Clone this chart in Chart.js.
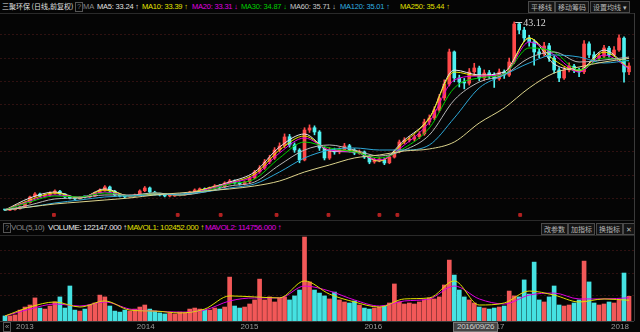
<!DOCTYPE html>
<html>
<head>
<meta charset="utf-8">
<script src="https://cdn.jsdelivr.net/npm/chart.js@4.4.0/dist/chart.umd.min.js"></script>
<style>
body{margin:0;background:#050505;width:640px;height:332px;overflow:hidden;position:relative;font-family:"Liberation Sans","Noto Sans CJK SC",sans-serif;font-size:7.5px;}
.t{position:absolute;white-space:nowrap;line-height:11px;}
.m{letter-spacing:-0.2px;}
.v{letter-spacing:-0.4px;font-size:8px;}
.btn{position:absolute;border:1px solid #4a4a4a;background:#141414;color:#b8b8b8;height:10px;line-height:10px;padding:0 2px;font-size:7px;font-family:"Noto Sans CJK SC",sans-serif;}
.hl{position:absolute;height:1px;background:#2a2a2a;}
canvas{position:absolute;left:0;}
</style>
</head>
<body>
<div class="t" style="left:2px;top:1px;color:#e0e0e0;font-size:7px;font-family:'Noto Sans CJK SC',sans-serif;">三聚环保 (日线,前复权)</div>
<div class="t" style="left:75px;top:2px;color:#777;border:1px solid #555;line-height:8px;padding:0 1px;">?</div>
<div class="t" style="left:83px;top:1px;color:#888;">MA</div>
<div class="t m" style="left:97px;top:1px;color:#e0e0e0;">MA5: 33.24 ↑</div>
<div class="t m" style="left:142px;top:1px;color:#e6e600;">MA10: 33.39 ↑</div>
<div class="t m" style="left:192px;top:1px;color:#e000e0;">MA20: 33.31 ↓</div>
<div class="t m" style="left:241px;top:1px;color:#00d000;">MA30: 34.87 ↓</div>
<div class="t m" style="left:290px;top:1px;color:#c8c8c8;">MA60: 35.71 ↓</div>
<div class="t m" style="left:340px;top:1px;color:#30b0e0;">MA120: 35.01 ↑</div>
<div class="t m" style="left:400px;top:1px;color:#e0e000;">MA250: 35.44 ↑</div>
<div class="btn" style="left:528px;top:1px;">平移线</div>
<div class="btn" style="left:555px;top:1px;">移动筹码</div>
<div class="btn" style="left:590px;top:1px;">设置均线 ▾</div>
<div class="hl" style="left:0;top:13px;width:634px;"></div>
<div class="hl" style="left:0;top:220px;width:634px;"></div>

<div class="t" style="left:3px;top:223px;color:#777;border:1px solid #555;line-height:8px;padding:0 1px;">?</div>
<div class="t v" style="left:11px;top:222px;color:#888;">VOL(5,10)</div>
<div class="t v" style="left:48px;top:222px;color:#e8e8e8;">VOLUME: 122147.000 ↑</div>
<div class="t v" style="left:127px;top:222px;color:#e0e000;">MAVOL1: 102452.000 ↑</div>
<div class="t v" style="left:205px;top:222px;color:#e000e0;">MAVOL2: 114756.000 ↑</div>
<div class="btn" style="left:541px;top:223px;">改参数</div>
<div class="btn" style="left:568px;top:223px;">加指标</div>
<div class="btn" style="left:596px;top:223px;">换指标</div>
<div class="btn" style="left:623px;top:223px;">✕</div>
<div class="hl" style="left:0;top:235px;width:634px;"></div>
<div style="position:absolute;left:634px;top:13px;width:1px;height:308px;background:#3a3a3a;"></div>

<canvas id="priceChart" width="634" height="208" style="top:12px;"></canvas>
<canvas id="volChart" width="634" height="96" style="top:236px;"></canvas>

<div class="t" style="left:3px;top:322px;color:#999;border:1px solid #555;line-height:8px;padding:0 1px;">«</div>
<div class="t" style="left:453px;top:322px;color:#d0d0d0;background:#444;border:1px solid #777;line-height:8px;padding:0 3px;font-size:8px;letter-spacing:-0.3px;">2016/09/26</div>

<script>
// candles, one per ~week
const opens = [3.5,3.4,3.5,3.7,4.1,5.0,6.3,6.8,6.4,6.6,
  7.0,7.4,6.8,6.2,6.0,5.8,6.2,6.2,6.4,7.0,
  7.6,8.3,7.4,6.6,6.4,6.2,6.4,6.6,7.5,8.1,
  7.2,6.8,6.6,6.4,6.4,6.6,6.6,6.8,7.2,7.7,
  7.9,7.7,8.1,8.5,8.3,9.1,9.6,9.1,8.9,9.4,
  10.2,11.5,12.3,13.6,14.4,16.1,17.0,18.9,17.2,16.1,
  14.0,20.3,20.8,19.9,16.5,14.4,16.1,15.7,16.1,17.0,
  16.1,15.5,15.7,14.6,13.6,14.0,14.0,13.4,14.6,15.7,
  17.8,18.2,18.4,18.9,19.5,22.0,22.9,24.5,27.1,30.0,
  36.8,31.3,30.5,30.2,32.6,33.4,31.3,32.4,31.9,31.1,
  32.6,31.9,34.7,42.7,41.4,39.7,38.9,36.8,36.4,38.1,
  35.5,33.0,31.3,33.0,33.8,33.0,32.6,38.5,36.2,35.5,
  35.9,37.6,36.2,37.2,39.7,32.6];
const closes = [3.44,3.44,3.65,4.08,4.92,6.19,6.82,6.40,6.61,7.03,
  7.45,6.82,6.19,5.98,5.77,6.19,6.19,6.40,7.03,7.66,
  8.30,7.45,6.61,6.40,6.19,6.40,6.61,7.45,8.09,7.24,
  6.82,6.61,6.40,6.40,6.61,6.61,6.82,7.24,7.66,7.88,
  7.66,8.09,8.51,8.30,9.14,9.56,9.14,8.93,9.35,10.20,
  11.47,12.31,13.57,14.42,16.10,16.95,18.85,17.16,16.10,14.00,
  20.32,20.75,19.90,16.53,14.42,16.10,15.68,16.10,16.95,16.10,
  15.47,15.68,14.63,13.57,14.00,14.00,13.36,14.63,15.68,17.79,
  18.21,18.43,18.85,19.48,22.01,22.86,24.54,27.08,30.03,36.78,
  31.30,30.45,30.24,32.56,33.41,31.30,32.35,31.93,31.09,32.56,
  31.93,34.67,42.69,41.42,39.74,38.89,36.78,36.36,38.05,35.52,
  32.98,31.30,32.98,33.83,32.98,32.56,38.47,36.15,35.52,35.94,
  37.63,36.15,37.20,39.74,32.56,33.83];
const highs = [3.6,3.6,3.8,4.2,5.1,6.4,7.1,7.0,6.8,7.3,
  7.7,7.6,6.9,6.3,6.1,6.3,6.4,6.6,7.2,7.9,
  8.6,8.5,7.6,6.8,6.5,6.6,6.8,7.7,8.4,8.3,
  7.4,7.0,6.7,6.6,6.8,6.8,7.0,7.4,7.9,8.1,
  8.1,8.3,8.8,8.8,9.4,9.9,9.8,9.4,9.6,10.5,
  11.8,12.8,14.1,15.0,16.6,17.6,19.5,19.4,17.6,16.4,
  20.8,21.4,21.2,20.2,16.8,16.6,16.5,16.6,17.5,17.3,
  16.4,16.1,15.9,14.9,14.4,14.5,14.3,15.0,16.1,18.2,
  18.7,18.9,19.3,20.0,22.6,23.5,25.2,27.8,30.9,37.4,
  37.0,31.9,31.2,33.3,34.4,33.8,33.0,32.9,32.4,33.2,
  33.0,35.5,43.12,43.0,42.0,40.3,39.4,37.5,38.8,38.6,
  35.9,33.5,33.6,34.5,34.2,33.4,39.2,38.9,36.8,36.6,
  38.2,38.0,37.9,40.4,40.0,34.5];
const lows = [3.3,3.3,3.4,3.6,4.0,4.9,6.1,6.2,6.2,6.4,
  6.8,6.6,6.0,5.8,5.6,5.7,6.0,6.1,6.3,6.9,
  7.4,7.2,6.4,6.2,6.0,6.1,6.3,6.5,7.3,7.0,
  6.6,6.4,6.2,6.2,6.3,6.4,6.5,6.7,7.1,7.5,
  7.4,7.5,7.9,8.1,8.1,8.9,8.9,8.7,8.7,9.2,
  10.0,11.2,12.0,13.2,14.1,15.7,16.6,16.7,15.6,13.4,
  13.8,19.8,19.3,16.0,14.0,14.1,15.2,15.3,15.8,15.7,
  15.1,15.2,14.3,13.2,13.3,13.6,13.0,13.2,14.4,15.5,
  17.4,17.8,18.0,18.5,19.2,21.4,22.5,24.1,26.6,29.6,
  30.5,29.4,29.0,29.8,32.0,30.7,30.8,31.2,29.3,30.8,
  31.2,31.6,34.3,40.6,39.0,38.0,34.0,35.6,35.9,34.8,
  32.3,30.5,31.0,32.6,32.4,31.6,32.2,35.6,35.0,35.1,
  35.6,35.7,35.9,36.9,30.4,32.0];
const volumes = [25000,25000,30000,54000,69000,79000,114000,64000,59000,74000,
  94000,119000,64000,173000,54000,49000,59000,79000,89000,128000,
  119000,74000,49000,44000,54000,49000,59000,69000,79000,59000,
  49000,40000,35000,40000,35000,44000,40000,59000,64000,59000,
  54000,54000,64000,59000,69000,217000,74000,64000,69000,84000,
  104000,207000,104000,119000,94000,114000,119000,104000,124000,153000,
  415000,193000,153000,138000,124000,109000,143000,104000,94000,89000,
  99000,79000,64000,59000,64000,69000,74000,89000,183000,94000,
  84000,89000,84000,94000,104000,114000,109000,119000,178000,301000,
  227000,153000,119000,104000,89000,69000,64000,59000,64000,69000,
  74000,148000,124000,119000,203000,133000,291000,104000,94000,119000,
  173000,79000,74000,79000,89000,104000,296000,193000,89000,79000,
  84000,94000,89000,104000,237000,122147];

// moving averages sampled every 5 candles
const maIdx = [0,5,10,15,20,25,30,35,40,45,50,55,60,65,70,75,80,85,90,95,100,105,110,115,120,125];
const ma5 = [3.44,5.98,7.24,5.98,7.88,6.40,6.82,6.61,7.88,9.35,11.46,16.74,19.48,15.89,15.68,13.78,18.21,22.86,32.98,31.93,32.56,39.74,34.25,32.98,37.20,33.24];
const ma10 = [3.44,5.55,7.03,5.98,7.66,6.40,6.82,6.61,7.88,9.14,11.04,16.10,19.06,16.10,15.89,13.78,17.79,22.86,32.56,31.72,32.14,39.74,35.09,32.77,36.78,33.39];
const ma20 = [3.44,5.34,6.61,6.19,7.24,6.40,7.03,6.61,7.66,9.14,10.62,15.47,18.64,16.10,15.68,14.00,17.16,22.01,30.87,31.72,32.14,38.89,36.15,32.56,36.15,33.31];
const ma30 = [3.44,5.13,6.40,6.19,7.03,6.40,7.03,6.61,7.45,8.93,9.98,14.42,17.79,16.53,15.68,14.42,16.53,20.75,29.19,31.30,32.14,37.63,36.78,32.98,35.52,34.87];
const ma60 = [3.44,4.50,5.77,5.98,6.61,6.61,7.03,6.61,7.24,8.51,9.35,12.94,16.10,17.16,16.10,14.84,16.10,19.27,26.65,30.45,31.93,35.52,36.78,34.67,35.09,35.71];
const ma120 = [3.44,4.08,4.92,5.55,6.19,6.40,6.61,6.82,7.24,8.09,8.93,11.46,14.42,16.10,16.53,16.10,16.10,17.16,22.86,29.19,31.93,34.46,36.15,35.73,34.46,35.01];
const ma250 = [3.44,4.08,4.71,5.13,5.55,5.98,6.61,7.03,7.45,7.88,8.51,9.56,11.46,12.94,14.42,15.05,15.89,16.32,17.79,21.80,24.97,29.19,32.35,33.62,34.67,35.44];
const mavol1 = [25000,69000,94000,69000,99000,54000,49000,40000,59000,124000,119000,114000,198000,133000,94000,69000,109000,114000,198000,79000,89000,148000,128000,94000,109000,102452];
const mavol2 = [25000,59000,84000,74000,94000,59000,49000,44000,54000,99000,114000,114000,173000,148000,104000,74000,99000,109000,173000,109000,84000,128000,138000,109000,109000,114756];

const priceGrid = [40.4,35.5,30.5,25.6,20.7,15.7,10.8,5.9];
const volGrid = [124000,237000,350000];
const yearLabels = ['2013','2014','2015','2016','2017','2018'];
const yearIdx = [2.2,26.4,47.2,72,96.5,121.4];
const signalIdx = [9.8,34.6,43.2,54.4,64.8,75,78.6,103.2];

const UP = '#ff4a4a';
const DOWN = '#4ff0f0';
const isUp = closes.map((c, i) => c >= opens[i]);

const gridColor = 'rgba(110,35,35,0.4)';

const maLine = (vals, color) => ({
  type: 'line',
  data: maIdx.map((x, k) => ({ x: x, y: vals[k] })),
  borderColor: color,
  borderWidth: 1,
  pointRadius: 0,
  cubicInterpolationMode: 'monotone',
});

const maxLabel = {
  id: 'maxLabel',
  afterDatasetsDraw(chart) {
    const { ctx, scales } = chart;
    let k = 0;
    highs.forEach((h, i) => { if (h > highs[k]) k = i; });
    const px = scales.x.getPixelForValue(k);
    const py = scales.y.getPixelForValue(highs[k]);
    ctx.save();
    ctx.strokeStyle = '#cfcfcf';
    ctx.lineWidth = 1;
    ctx.beginPath();
    ctx.moveTo(px + 1, Math.round(py) + 0.5);
    ctx.lineTo(px + 8, Math.round(py) + 0.5);
    ctx.stroke();
    ctx.fillStyle = '#d8d8d8';
    ctx.font = '10px "Liberation Serif", serif';
    ctx.textBaseline = 'middle';
    ctx.fillText(highs[k].toFixed(2), px + 9, py + 1);
    ctx.restore();
  }
};

const init = () => {
  const priceCtx = document.getElementById('priceChart').getContext('2d');
  new Chart(priceCtx, {
    type: 'bar',
    data: {
      datasets: [
        maLine(ma250, '#dcd48c'),
        maLine(ma120, '#2ea8d8'),
        maLine(ma60, '#b8b8b8'),
        maLine(ma30, '#00d000'),
        maLine(ma20, '#e000e0'),
        maLine(ma10, '#e6e600'),
        maLine(ma5, '#e8e8e8'),
        {
          type: 'bar',
          data: closes.map((c, i) => ({ x: i, y: [lows[i], highs[i]] })),
          backgroundColor: isUp.map(u => u ? UP : DOWN),
          barThickness: 1,
          grouped: false,
        },
        {
          type: 'bar',
          data: closes.map((c, i) => ({ x: i, y: [opens[i], c] })),
          backgroundColor: isUp.map(u => u ? UP : DOWN),
          barThickness: 3,
          minBarLength: 1,
          grouped: false,
        },
        {
          type: 'scatter',
          data: signalIdx.map(x => ({ x: x, y: 2.4 })),
          pointStyle: 'rect',
          pointRadius: 2,
          backgroundColor: '#b22222',
          borderColor: '#b22222',
        },
      ]
    },
    options: {
      responsive: false,
      animation: false,
      devicePixelRatio: 1,
      layout: { padding: 0, autoPadding: false },
      plugins: { legend: { display: false }, tooltip: { enabled: false } },
      scales: {
        x: { type: 'linear', min: -1, max: 126, offset: false, display: false },
        y: {
          min: 1.33, max: 45.22,
          afterBuildTicks: s => { s.ticks = priceGrid.map(v => ({ value: v })); },
          ticks: { display: false },
          grid: { color: gridColor, drawTicks: false },
          border: { display: false, dash: [2, 2] },
        }
      }
    },
    plugins: [maxLabel]
  });

  const volCtx = document.getElementById('volChart').getContext('2d');
  new Chart(volCtx, {
    type: 'bar',
    data: {
      datasets: [
        maLine(mavol1, '#e0e000'),
        maLine(mavol2, '#e000e0'),
        {
          type: 'bar',
          data: volumes.map((v, i) => ({ x: i, y: v })),
          backgroundColor: isUp.map(u => u ? '#f25858' : '#45e2e2'),
          barThickness: 4,
          grouped: false,
        },
      ]
    },
    options: {
      responsive: false,
      animation: false,
      devicePixelRatio: 1,
      layout: { padding: 0, autoPadding: false },
      plugins: { legend: { display: false }, tooltip: { enabled: false } },
      scales: {
        x: {
          type: 'linear', min: -1, max: 126, offset: false,
          afterBuildTicks: s => { s.ticks = yearIdx.map(v => ({ value: v })); },
          afterFit: s => { s.height = 11; },
          ticks: {
            align: 'start',
            padding: 1,
            maxRotation: 0,
            autoSkip: false,
            color: '#9a9a9a',
            font: { size: 8, family: 'Liberation Sans' },
            callback: (v, i) => yearLabels[i],
          },
          grid: { display: false, drawTicks: false },
          border: { display: true, color: '#3a3a3a' },
        },
        y: {
          min: 0, max: 420000,
          afterBuildTicks: s => { s.ticks = volGrid.map(v => ({ value: v })); },
          ticks: { display: false },
          grid: { color: gridColor, drawTicks: false },
          border: { display: false, dash: [2, 2] },
        }
      }
    }
  });
};

window.addEventListener('load', init);
</script>
</body>
</html>
